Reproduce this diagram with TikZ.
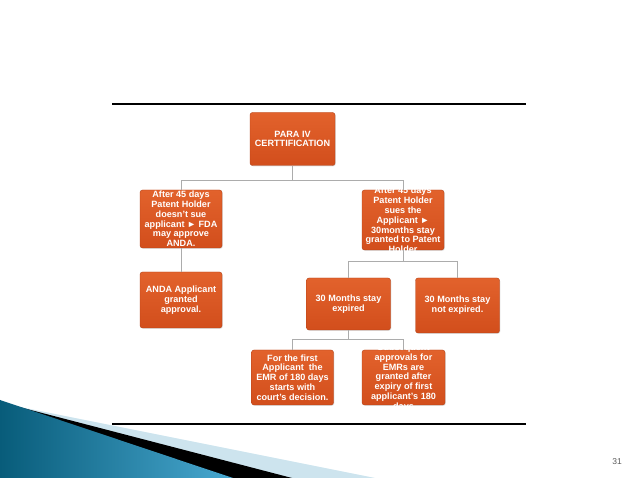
\documentclass[tikz,border=0pt]{standalone}
\usepackage{fontspec}
\setmainfont{Liberation Sans}
\usepackage{tikz}
\usetikzlibrary{positioning, shadows}
\definecolor{boxorange}{RGB}{210, 78, 28}
\definecolor{boxlight}{RGB}{226, 98, 44}
\definecolor{sheen}{RGB}{72, 168, 208}
\definecolor{deepteal}{RGB}{8, 92, 122}
\definecolor{paleblue}{RGB}{205, 228, 238}

\tikzset{
  paraBox/.style={rectangle, rounded corners=2.5pt, top color=boxlight, bottom color=boxorange,
    draw=boxorange!85!black, line width=0.4pt,
    drop shadow={shadow xshift=0.8pt, shadow yshift=-0.8pt, opacity=0.25}},
  paraText/.style={text=white, align=center, inner sep=0pt,
    font=\fontsize{9.1}{9.8}\selectfont\bfseries},
  link/.style={draw=gray!65, line width=0.8pt},
  rule/.style={line width=2.6pt, black}
}

% box of fixed size, text on top of it (may run over its edges)
\newcommand{\paraNode}[5]{%
  \node[paraBox, minimum width=#3, minimum height=#4] (#1) at (#2) {};
  \node[paraText] (#1-text) at (#1.center) {#5};
}

\begin{document}
\begin{tikzpicture}[x=1pt, y=-1pt]

  \useasboundingbox (0, 0) rectangle (638, 478);

  % slide decoration, bottom left
  \fill[paleblue] (0, 403) -- (375, 478) -- (0, 478) -- cycle;
  \fill[black] (0, 402) -- (292, 478) -- (0, 478) -- cycle;
  \shade[left color=deepteal, right color=sheen] (0, 400) -- (233, 478) -- (0, 478) -- cycle;

  \draw[rule] (112, 104) -- (526, 104);
  \draw[rule] (112, 424) -- (526, 424);

  \paraNode{para}{292.5, 139}{85pt}{53pt}{PARA IV\\CERTTIFICATION}

  \paraNode{nosue}{181, 219}{82pt}{58pt}
    {After 45 days\\Patent Holder\\doesn't sue\\applicant ► FDA\\may approve\\ANDA.}
  \paraNode{sue}{403, 220}{82pt}{60pt}
    {After 45 days\\Patent Holder\\sues the\\Applicant ►\\30months stay\\granted to Patent\\Holder}

  \paraNode{granted}{181, 300}{82pt}{56pt}{ANDA Applicant\\granted\\approval.}
  \paraNode{expired}{348.5, 304}{84pt}{52pt}{30 Months stay\\expired}
  \paraNode{notexp}{457.5, 305.5}{84pt}{55pt}{30 Months stay\\not expired.}

  \paraNode{first}{292.5, 377.5}{82pt}{55pt}
    {For the first\\Applicant~ the\\EMR of 180 days\\starts with\\court's decision.}
  \paraNode{later}{403.5, 377.5}{83pt}{55pt}
    {Subsequent\\approvals for\\EMRs are\\granted after\\expiry of first\\applicant's 180\\days}

  % connectors
  \draw[link] (para.south) -- ++(0, 15) coordinate (splitA) -| (nosue.north);
  \draw[link] (splitA) -| (sue.north);
  \draw[link] (nosue.south) -- (granted.north);

  \draw[link] (sue.south) -- ++(0, 11) coordinate (splitB) -| (expired.north);
  \draw[link] (splitB) -| (notexp.north);

  \draw[link] (expired.south) -- ++(0, 9) coordinate (splitC) -| (first.north);
  \draw[link] (splitC) -| (later.north);

  \node[text=gray!70!black, font=\fontsize{8.5}{9}\selectfont] (pageno) at (617, 462) {31};

\end{tikzpicture}
\end{document}
